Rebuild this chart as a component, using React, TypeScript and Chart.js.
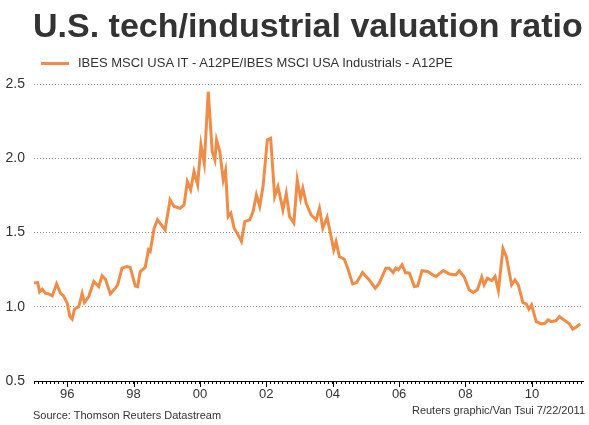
import React, { useEffect, useRef } from "react";
import { Chart, registerables } from "chart.js";

Chart.register(...registerables);

// Decimal-year dates and tech/industrial forward P/E ratio
const dates: number[] = [
  1995.0, 1995.11, 1995.17, 1995.25, 1995.35, 1995.44, 1995.55, 1995.68, 1995.8, 1995.89,
  1996.0, 1996.08, 1996.15, 1996.22, 1996.35, 1996.45, 1996.52, 1996.65, 1996.8, 1996.95,
  1997.05, 1997.15, 1997.3, 1997.45, 1997.52, 1997.65, 1997.8, 1997.9,
  1998.05, 1998.12, 1998.2, 1998.35, 1998.45, 1998.5, 1998.62, 1998.72, 1998.95,
  1999.1, 1999.22, 1999.4, 1999.52, 1999.62, 1999.72, 1999.82, 1999.93,
  2000.03, 2000.13, 2000.25, 2000.37, 2000.45, 2000.5, 2000.6, 2000.7, 2000.77, 2000.85, 2000.93,
  2001.03, 2001.15, 2001.25, 2001.35, 2001.5, 2001.6, 2001.7, 2001.8, 2001.9,
  2002.03, 2002.13, 2002.25, 2002.35, 2002.5, 2002.6, 2002.7, 2002.83, 2002.93,
  2003.03, 2003.1, 2003.2, 2003.35, 2003.5, 2003.6, 2003.7, 2003.83, 2003.93,
  2004.03, 2004.1, 2004.2, 2004.35, 2004.45, 2004.6, 2004.72, 2004.9,
  2005.1, 2005.28, 2005.4, 2005.6, 2005.7, 2005.82, 2005.9, 2005.98,
  2006.09, 2006.19, 2006.31, 2006.46, 2006.56, 2006.69, 2006.86,
  2007.01, 2007.11, 2007.33, 2007.51, 2007.71, 2007.81, 2007.96,
  2008.11, 2008.23, 2008.36, 2008.49, 2008.56, 2008.66, 2008.79, 2008.89, 2008.99,
  2009.13, 2009.23, 2009.39, 2009.49, 2009.59, 2009.73, 2009.83, 2009.91, 2009.99,
  2010.13, 2010.29, 2010.39, 2010.49, 2010.59, 2010.73, 2010.83, 2010.99,
  2011.13, 2011.23, 2011.33, 2011.46,
];

const ratios: number[] = [
  1.16, 1.163, 1.1, 1.118, 1.09, 1.087, 1.073, 1.154, 1.09, 1.073,
  1.024, 0.934, 0.917, 0.984, 1.001, 1.09, 1.028, 1.069, 1.17, 1.136,
  1.208, 1.186, 1.087, 1.125, 1.147, 1.26, 1.27, 1.265,
  1.14, 1.136, 1.237, 1.265, 1.383, 1.372, 1.529, 1.585, 1.518,
  1.72, 1.675, 1.663, 1.686, 1.843, 1.787, 1.91, 1.82,
  2.09, 1.966, 2.448, 2.044, 1.989, 2.123, 2.044, 1.854, 1.917, 1.607, 1.63,
  1.529, 1.484, 1.439, 1.573, 1.585, 1.641, 1.753, 1.675, 1.809,
  2.123, 2.134, 1.742, 1.809, 1.652, 1.764, 1.607, 1.563, 1.854,
  1.731, 1.798, 1.697, 1.618, 1.585, 1.663, 1.529, 1.603, 1.495,
  1.383, 1.439, 1.338, 1.32, 1.26, 1.154, 1.163, 1.23,
  1.181, 1.125, 1.159, 1.26, 1.26, 1.23, 1.26, 1.249,
  1.283, 1.23, 1.226, 1.136, 1.14, 1.243, 1.237,
  1.215, 1.204, 1.243, 1.221, 1.215, 1.243, 1.2,
  1.114, 1.096, 1.114, 1.2, 1.147, 1.192, 1.176, 1.204, 1.109,
  1.392, 1.338, 1.147, 1.181, 1.147, 1.028, 1.019, 0.984, 1.012,
  0.9, 0.885, 0.889, 0.912, 0.9, 0.907, 0.934, 0.907,
  0.885, 0.849, 0.862, 0.885,
];

const yTicks: number[] = [0.5, 1.0, 1.5, 2.0, 2.5];
const labeledYears: number[] = [1996, 1998, 2000, 2002, 2004, 2006, 2008, 2010];

const TITLE = "U.S. tech/industrial valuation ratio";
const SERIES = "IBES MSCI USA IT - A12PE/IBES MSCI USA Industrials - A12PE";
const SOURCE = "Source: Thomson Reuters Datastream";
const CREDIT = "Reuters graphic/Van Tsui 7/22/2011";

const X_MIN = 1995;
const X_MAX = 2011.54;
const LINE_COLOR = "#F08C46";
const FONT = "'Liberation Sans', Arial, sans-serif";

const majorTickPlugin = {
  id: "majorTicks",
  afterDraw(chart: any) {
    const xs = chart.scales.x;
    const ctx = chart.ctx;
    ctx.save();
    ctx.strokeStyle = "#000";
    ctx.lineWidth = 1;
    labeledYears.forEach((yr) => {
      const px = Math.round(xs.getPixelForValue(yr)) + 0.5;
      ctx.beginPath();
      ctx.moveTo(px, xs.top);
      ctx.lineTo(px, xs.top + 6);
      ctx.stroke();
    });
    ctx.restore();
  },
};

export default function App() {
  const ref = useRef<HTMLCanvasElement | null>(null);

  useEffect(() => {
    if (!ref.current) return;
    const points = dates.map((d, i) => ({ x: d, y: ratios[i] }));
    const chart = new Chart(ref.current, {
      type: "line",
      data: {
        datasets: [
          {
            label: SERIES,
            data: points,
            borderColor: LINE_COLOR,
            backgroundColor: LINE_COLOR,
            borderWidth: 3,
            pointRadius: 0,
            tension: 0,
          },
        ],
      },
      plugins: [majorTickPlugin],
      options: {
        animation: false,
        responsive: false,
        devicePixelRatio: 1,
        layout: { padding: { top: 84, right: 6, left: 0, bottom: 0 } },
        plugins: {
          legend: { display: false },
          title: { display: false },
          tooltip: { enabled: false },
        },
        scales: {
          x: {
            type: "linear",
            min: X_MIN,
            max: X_MAX,
            afterFit: (s: any) => {
              s.height = 44;
            },
            afterBuildTicks: (s: any) => {
              const t: { value: number }[] = [];
              for (let v = X_MIN; v <= X_MAX; v += 0.125) t.push({ value: v });
              s.ticks = t;
            },
            border: { display: true, color: "#000", width: 1 },
            grid: {
              drawOnChartArea: false,
              drawTicks: true,
              tickLength: 3,
              tickColor: "#000",
              tickWidth: 1,
            },
            ticks: {
              autoSkip: false,
              maxRotation: 0,
              padding: 3,
              color: "#333",
              font: { family: FONT, size: 13 },
              callback: (v: any) => {
                const n = Number(v);
                return labeledYears.includes(n) ? String(n).slice(2) : "";
              },
            },
          },
          y: {
            type: "linear",
            min: 0.5,
            max: 2.5,
            afterFit: (s: any) => {
              s.width = 34;
            },
            afterBuildTicks: (s: any) => {
              s.ticks = yTicks.map((v) => ({ value: v }));
            },
            border: { display: false },
            grid: {
              drawTicks: false,
              color: (c: any) => (c.tick && c.tick.value === 0.5 ? "rgba(0,0,0,0)" : "#8a8a8a"),
              lineWidth: 1,
            },
            ticks: {
              padding: 9,
              color: "#333",
              font: { family: FONT, size: 14 },
              callback: (v: any) => Number(v).toFixed(1),
            },
          },
        },
      } as any,
    });
    // dotted horizontal grid lines
    (chart.options.scales as any).y.grid.borderDash = [1, 2];
    (chart.options.scales as any).y.border.dash = [1, 2];
    chart.update();
    return () => chart.destroy();
  }, []);

  return (
    <div
      style={{
        position: "fixed",
        left: 0,
        top: 0,
        width: 589,
        height: 425,
        background: "#fff",
        fontFamily: FONT,
        overflow: "hidden",
      }}
    >
      <canvas ref={ref} width={589} height={425} style={{ width: 589, height: 425, display: "block" }} />
      <div
        style={{
          position: "absolute",
          left: 33,
          top: 2,
          fontSize: 34,
          fontWeight: "bold",
          color: "#333",
          whiteSpace: "nowrap",
          lineHeight: "46px",
        }}
      >
        {TITLE}
      </div>
      <div
        style={{
          position: "absolute",
          left: 41,
          top: 55,
          display: "flex",
          alignItems: "center",
          whiteSpace: "nowrap",
          fontSize: 13,
          color: "#333",
          lineHeight: "16px",
        }}
      >
        <span style={{ display: "inline-block", width: 28, height: 3, background: LINE_COLOR, marginRight: 9 }} />
        <span>{SERIES}</span>
      </div>
      <div
        style={{
          position: "absolute",
          left: 33,
          top: 408,
          fontSize: 11,
          color: "#333",
          whiteSpace: "nowrap",
          lineHeight: "14px",
        }}
      >
        {SOURCE}
      </div>
      <div
        style={{
          position: "absolute",
          right: 4,
          top: 403,
          fontSize: 11,
          color: "#333",
          whiteSpace: "nowrap",
          lineHeight: "14px",
        }}
      >
        {CREDIT}
      </div>
    </div>
  );
}
